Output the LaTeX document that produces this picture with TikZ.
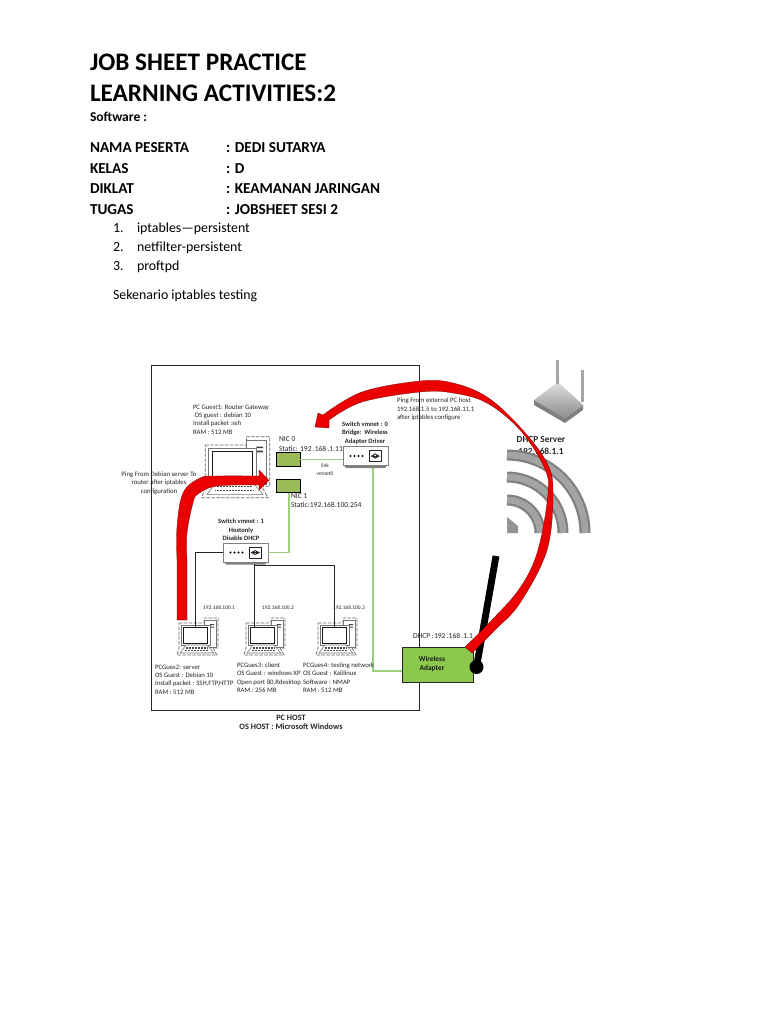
\documentclass[tikz,border=0pt]{standalone}
\usepackage{fontspec}
\setmainfont{Carlito}
\usetikzlibrary{calc}
\definecolor{linkgreen}{HTML}{9DD07E}
\definecolor{nicgreen}{HTML}{9BBB59}
\definecolor{adaptergreen}{HTML}{8CC84B}
\def\u{0.02cm}
\tikzset{
  x=0.02cm, y=-0.02cm,
  lbl/.style={inner sep=0pt, outer sep=0pt, anchor=west, align=left, text=black!85, font=\fontsize{3.85}{4.75}\selectfont},
  lblc/.style={lbl, anchor=center, align=center},
  lblb/.style={lblc, font=\fontsize{3.75}{4.85}\selectfont\bfseries},
  body/.style={inner sep=0pt, outer sep=0pt, anchor=west, text=black, font=\fontsize{8.65}{9}\selectfont\bfseries},
  plain/.style={inner sep=0pt, outer sep=0pt, anchor=west, text=black, font=\fontsize{7.9}{9}\selectfont},
  head/.style={inner sep=0pt, outer sep=0pt, anchor=west, text=black, font=\fontsize{14.35}{16}\selectfont\bfseries},
  nicbox/.style={draw=black, line width=0.5pt, fill=nicgreen, minimum width=24*\u, minimum height=13.5*\u, inner sep=0pt},
  switchbox/.style={draw=black!50, line width=0.3pt, fill=white, minimum width=45*\u, minimum height=19*\u, inner sep=0pt},
  monitorbox/.style={draw=black!90, line width=0.45pt, fill=white, inner sep=0pt},
  greenlink/.style={draw=linkgreen, line width=0.75pt},
  blacklink/.style={draw=black!85, line width=0.5pt},
  bigarrow/.style={fill=red!92!black, draw=black!55!red, line width=0.15pt},
  dashring/.style={draw=black!60, line width=0.42pt, dash pattern=on 2pt off 0.8pt},
}
% Desktop icon: tower, dashed halo and keyboard around a named monitor node
\newcommand{\desktopicon}[4]{%
  \begin{scope}[shift={(#2,#3)}, scale=#4]
    \draw[dashring] (2,6) -- (27,6) -- (27,1) -- (41,1) -- (41,31) -- (36,31) -- (40,38) -- (0,38) -- (2,31) -- cycle;
    \draw[draw=black!55, line width=0.3pt, fill=white] (27,3) rectangle (39,30);
    \fill[black!75] (33,7) rectangle (37,8) (33,9.5) rectangle (37,10.5);
    \draw[draw=black!55, line width=0.3pt, fill=white] (4,8) rectangle (33,28);
    \draw[draw=black!55, line width=0.3pt, fill=white] (9,28) -- (30,28) -- (37,36) -- (3,36) -- cycle;
    \draw[black!70, line width=0.7pt, dash pattern=on 0.5pt off 0.35pt] (9,31) -- (30,31);
    \draw[black!70, line width=0.7pt, dash pattern=on 0.5pt off 0.35pt] (8,33.5) -- (31,33.5);
    \node[monitorbox, minimum width=#4*24*\u, minimum height=#4*16*\u] (#1) at (18.5,18) {};
  \end{scope}}
% Switch symbol: four port dots, a crossover box and a dark lower lip
\newcommand{\switchicon}[3]{%
  \fill[black!50] ($(#1)+(-21.5,9.5)$) -- ($(#1)+(21.5,9.5)$) -- ($(#1)+(19.5,12)$) -- ($(#1)+(-19.5,12)$) -- cycle;
  \node[switchbox] (#3) at (#1) {};
  \foreach \d in {-15,-11,-7,-3} \fill[black] ($(#1)+(\d,0)$) circle[radius=1.05*\u];
  \draw[black!85, line width=0.45pt] ($(#1)+(4,-5.5)$) rectangle ($(#1)+(15.5,5.5)$);
  \draw[black!85, line width=0.35pt, <->, >=stealth] ($(#1)+(5,0)$) -- ($(#1)+(14.5,0)$);
  #2}
\begin{document}
\begin{tikzpicture}
\useasboundingbox (0,0) rectangle (768,1024);
\fill[white] (0,0) rectangle (768,1024);

% Document heading and particulars
\node[head] (title1) at (90,62.5) {JOB SHEET PRACTICE};
\node[head] (title2) at (90,93) {LEARNING ACTIVITIES:2};
\node[body, font=\fontsize{7.7}{8}\selectfont\bfseries] (soft) at (90,117) {Software :};
\node[body] (k1) at (90,147.5) {NAMA PESERTA};
\node[body] (v1) at (226,147.5) {: DEDI SUTARYA};
\node[body] (k2) at (90,168.5) {KELAS};
\node[body] (v2) at (226,168.5) {: D};
\node[body] (k3) at (90,188.5) {DIKLAT};
\node[body] (v3) at (226,188.5) {: KEAMANAN JARINGAN};
\node[body] (k4) at (90,209.5) {TUGAS};
\node[body] (v4) at (226,209.5) {: JOBSHEET SESI 2};
\node[plain] (n1) at (113,228.5) {1.};
\node[plain] (i1) at (137,228.5) {iptables—persistent};
\node[plain] (n2) at (113,247.5) {2.};
\node[plain] (i2) at (137,247.5) {netfilter-persistent};
\node[plain] (n3) at (113,266.5) {3.};
\node[plain] (i3) at (137,266.5) {proftpd};
\node[plain] (scen) at (113,295.5) {Sekenario iptables testing};

% PC host frame
\draw[black!85, line width=0.5pt] (151,365) rectangle (419,710);
\node[lblb, font=\fontsize{4.7}{5.1}\selectfont\bfseries] (host) at (291,722.5) {PC HOST\\OS HOST : Microsoft Windows};

% Computers
\desktopicon{gw}{202}{435}{1.65}
\desktopicon{pc2}{177}{617}{1}
\desktopicon{pc3}{244}{617}{1}
\desktopicon{pc4}{316}{617}{1}

% Network adapters and switches
\node[nicbox] (nic0) at (288,459.5) {};
\node[nicbox] (nic1) at (288,486) {};
\coordinate (sw0c) at (365.5,456);
\coordinate (sw1c) at (245.5,552.5);
\switchicon{sw0c}{}{sw0}
\switchicon{sw1c}{}{sw1}
\coordinate (sw0port) at (373,468);
\coordinate (sw1port) at (254,564);
\node[draw=black!85, line width=0.5pt, fill=adaptergreen, minimum width=71*\u, minimum height=35*\u, inner sep=0pt] (adapter) at (437.5,664.5) {};
\node[lblb, font=\fontsize{4.2}{5.6}\selectfont\bfseries, text=black!90] (adapterlbl) at (432,664) {Wireless\\Adapter};

% Links
\draw[greenlink] (nic0.east) -- (sw0.west |- nic0.east);
\draw[greenlink] (nic1.south) ++(1,0) |- (sw1.east);
\draw[greenlink] (sw0port) |- ([yshift=-6.5*\u]adapter.west);
\draw[blacklink] (sw1.west) -| (pc2.north);
\draw[blacklink] (sw1port) -- (sw1port |- pc3.north);
\draw[blacklink] (sw1port) ++(0,1) -| (pc4.north);

% Diagram captions
\node[lbl] (gwlbl) at (193,419.5) {PC Guest1: Router Gateway\\\ OS guest : debian 10\\Install packet :ssh\\RAM : 512 MB};
\node[lblc] (pingl) at (159,483) {Ping From Debian server To\\router after iptables\\configuration};
\node[lbl, font=\fontsize{4.3}{5.4}\selectfont] (nic0lbl) at (279,444) {NIC 0\\Static: 192\,.168\,.1.11};
\node[lbl, font=\fontsize{4.3}{5.3}\selectfont] (nic1lbl) at (291,500.5) {NIC 1\\Static:192.168.100.254};
\node[lblc, font=\fontsize{3.1}{4.6}\selectfont] (linklbl) at (325,470) {link\\vmnet0};
\node[lblb] (sw0lbl) at (365,433) {Switch vmnet : 0\\Bridge:\ \ Wireless\\Adapter Driver};
\node[lblb] (sw1lbl) at (241,530) {Switch vmnet : 1\\Hostonly\\Disable DHCP};
\node[lblc, font=\fontsize{3.1}{4}\selectfont] (ip1) at (219,608) {192.168.100.1};
\node[lblc, font=\fontsize{3.1}{4}\selectfont] (ip2) at (278,608) {192.168.100.2};
\node[lblc, font=\fontsize{3.1}{4}\selectfont] (ip3) at (349,608) {192.168.100.3};
\node[lbl] (pc2lbl) at (155,679.5) {PCGues2: server\\OS Guest : Debian 10\\Install packet : SSH,FTP,HTTP\\RAM : 512 MB};
\node[lbl] (pc3lbl) at (237,677.5) {PCGues3: client\\OS Guest : windows XP\\Open port 80,Rdesktop\\RAM : 256 MB};
\node[lbl] (pc4lbl) at (303,677.5) {PCGues4: testing network\\OS Guest : Kalilinux\\Software : NMAP\\RAM : 512 MB};
\node[lbl] (pingr) at (397,409.5) {Ping From external PC host\\192.168.1.5 to 192.168.11.1\\after iptables configure};
\node[lbl, font=\fontsize{4.3}{5}\selectfont] (dhcpa) at (413,636) {DHCP :192\,.168\,.1.1};

% Home router
\fill[black!50] (534,400) -- (534,405) -- (565,423) -- (583,410) -- (583,405) -- (565,418) -- cycle;
\shade[top color=black!12, bottom color=black!45] (534,400) -- (558,382) -- (583,405) -- (565,418) -- cycle;
\draw[black!35, line width=1.7pt] (557,360) -- (557,384);
\draw[black!35, line width=1.7pt] (582,370) -- (582,402);
\node[lblb, font=\fontsize{5.3}{6.9}\selectfont\bfseries] (dhcps) at (541,445.5) {DHCP Server\\192.168.1.1};

% Wireless signal symbol
\begin{scope}
  \foreach \r/\w in {78/11,56/11,33/11} {
    \draw[black!50, line width=\w*\u] (507,533-\r) arc[start angle=90, end angle=0, radius=\r*\u];
    \draw[black!36, line width=0.6*\w*\u] (507,533-\r) arc[start angle=90, end angle=0, radius=\r*\u];
  }
  \fill[black!42] (507,517) -- (518,526) -- (518,533) -- (507,533) -- cycle;
\end{scope}

% Adapter antenna
\coordinate (antbase) at (476.5,667);
\coordinate (anttop) at (496,556);
\draw[black, line width=3.9pt] (antbase) -- (anttop);
\fill[black] (antbase) circle[radius=7*\u];

% Ping arrows
\path[bigarrow] (465,647)
  -- plot[smooth, tension=0.6] coordinates {(465,647) (490,622) (520,588) (538,550) (548,493) (544,467) (520,430) (487,403) (453,393) (420,392) (362,402) (329,420)}
  -- (329,428) -- (315,427) -- (318,413) -- (323,415)
  -- plot[smooth, tension=0.6] coordinates {(323,415) (362,392) (420,381) (453,383) (487,397) (520,427) (547,463) (553,493) (547,550) (520,603) (495,630) (472,653)}
  -- cycle;
\path[bigarrow] (177,620) -- (177,560)
  -- plot[smooth, tension=0.6] coordinates {(177,560) (177,527) (183,493) (200,478) (217,476) (259,476)}
  -- (259,470) -- (269,480.5) -- (259,490) -- (259,485)
  -- plot[smooth, tension=0.6] coordinates {(259,485) (217,486) (198,494) (193,503) (187,533) (187,560)}
  -- (187,620) -- cycle;
\end{tikzpicture}
\end{document}
